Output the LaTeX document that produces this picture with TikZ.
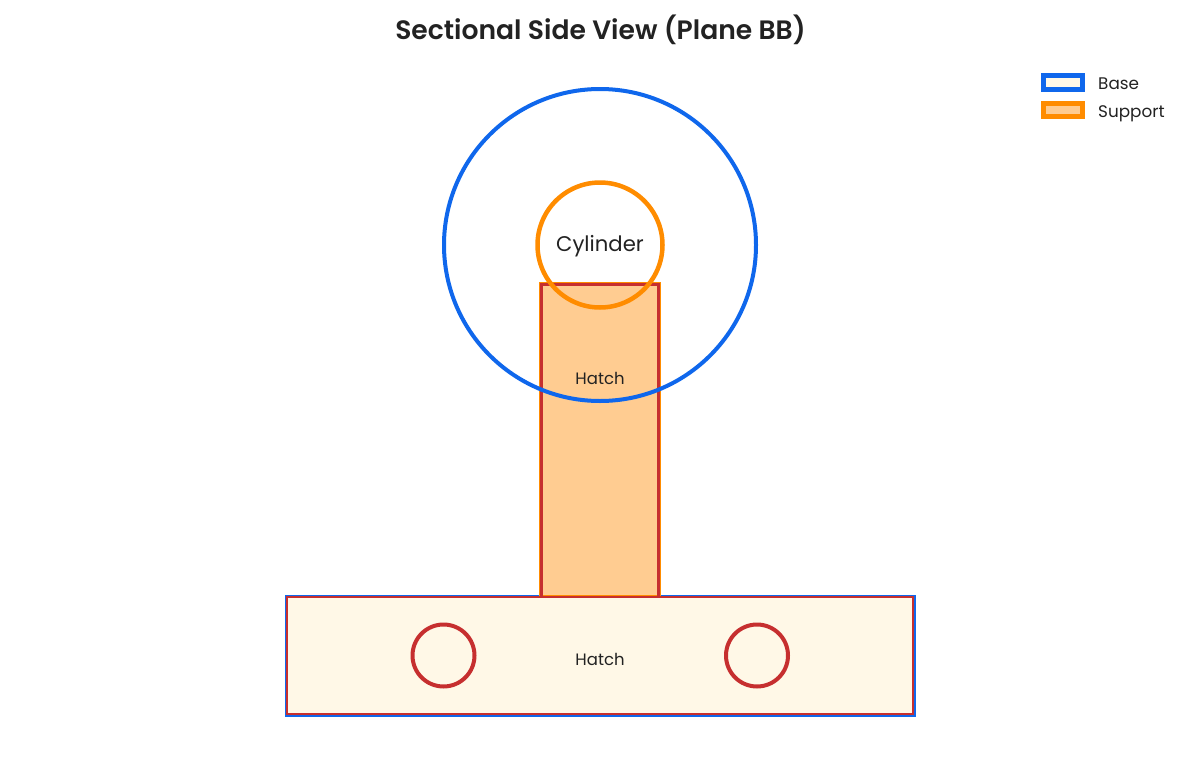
\documentclass[tikz,border=0pt]{standalone}
\usepackage{fontspec}
\setmainfont{Poppins}
\newfontfamily\titlefont{Poppins SemiBold}
\usetikzlibrary{positioning, backgrounds}
\definecolor{baseblue}{HTML}{0F67EC}
\definecolor{basefill}{HTML}{FFF8E7}
\definecolor{supportorange}{HTML}{FF8C00}
\definecolor{supportfill}{HTML}{FFCC91}
\definecolor{hatchred}{HTML}{C62F2F}
\definecolor{ink}{HTML}{222222}
\tikzset{%
  part/.style={draw, inner sep=0pt, outer sep=0pt, rectangle},
  base/.style={part, draw=baseblue, line width=3pt, fill=basefill, minimum width=628pt, minimum height=119pt},
  support/.style={part, draw=supportorange, line width=3pt, fill=supportfill, minimum width=119pt, minimum height=312.5pt},
  hatch/.style={part, draw=hatchred, line width=2.8pt},
  hole/.style={circle, draw=hatchred, line width=4pt, minimum size=62pt, inner sep=0pt, outer sep=0pt},
  ring/.style={circle, line width=4pt, inner sep=0pt, outer sep=0pt},
  swatch/.style={part, line width=5pt, minimum width=39pt, minimum height=13.6pt},
  label/.style={text=ink, inner sep=0pt, font=\fontsize{16.5}{18}\selectfont},
  legendlabel/.style={text=ink, inner sep=0pt, font=\fontsize{16.8}{18}\selectfont, anchor=base west}
}

\begin{document}
\begin{tikzpicture}[x=1pt, y=-1pt]
  \useasboundingbox (0,0) rectangle (1200,763);

  \node[base] (base) at (600,655.5) {};
  \node[support] (support) at (600,439.75) {};
  \node[hatch, minimum width=117.2pt, minimum height=312.3pt] (supporthatch) at (600.1,440.85) {};
  \node[hatch, minimum width=626pt, minimum height=117pt] (basehatch) at (600,655.5) {};

  \node[hole] (holeleft) at (443.5,655.5) {};
  \node[hole] (holeright) at (757,655.5) {};

  \node[ring, draw=baseblue, minimum size=312pt] (outer) at (600,245) {};
  \node[ring, draw=supportorange, line width=4.5pt, minimum size=125pt] (cylinder) at (600,245) {};

  \node[text=ink, inner sep=0pt, font=\fontsize{21.2}{24}\selectfont] (cylinderlabel) at (600,246.5) {Cylinder};
  \node[label] (hatchupper) at (600,378.5) {Hatch};
  \node[label] (hatchlower) at (600,659.5) {Hatch};

  \node[text=ink, inner sep=0pt, font=\titlefont\fontsize{26.6}{30}\selectfont] (title) at (600.5,29.5) {Sectional Side View (Plane BB)};

  \node[swatch, draw=baseblue, fill=basefill] (swatchbase) at (1063,82.6) {};
  \node[swatch, draw=supportorange, fill=supportfill] (swatchsupport) [below = 13.8pt of swatchbase] {};
  \node[legendlabel] (legendbase) at (1098,89.5) {Base};
  \node[legendlabel] (legendsupport) at (1098,117) {Support};
\end{tikzpicture}
\end{document}
